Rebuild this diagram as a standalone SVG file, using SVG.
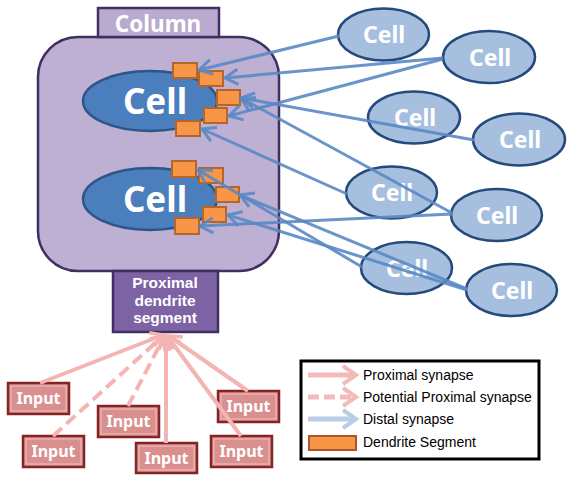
<svg xmlns="http://www.w3.org/2000/svg" width="571" height="478" viewBox="0 0 571 478">
<style>
.bold{font-family:"Noto Sans","DejaVu Sans",sans-serif;font-weight:bold;fill:#fff;text-anchor:middle}
.prox{font-family:"Liberation Sans","Noto Sans",sans-serif;font-weight:bold;fill:#fff;text-anchor:middle;font-size:15.5px}
.seg{fill:#f79646;stroke:#b5652a;stroke-width:2}
.small{fill:#a7bfdf;stroke:#244a7c;stroke-width:2.5}
.big{fill:#4a7ebc;stroke:#2d5587;stroke-width:2.5}
.inp{fill:#d98f8d;stroke:#842424;stroke-width:2.5}
.inpin{fill:none;stroke:#eec2c1;stroke-width:1}
.blue{stroke:#5a88c4;stroke-opacity:0.9;stroke-width:3;fill:none;marker-end:url(#bh)}
.pink{stroke:#f4b4b4;stroke-width:4;fill:none;marker-end:url(#ph)}
.dash{stroke-dasharray:12 6}
.leg{font-family:"Liberation Sans","Noto Sans",sans-serif;font-size:14px;fill:#000}
</style>
<defs>
<marker id="bh" markerUnits="userSpaceOnUse" viewBox="-3 -3 21 21" markerWidth="21" markerHeight="21" refX="14" refY="7.5" orient="auto">
<path d="M1,0 L14,7.5 L1,15" fill="none" stroke="#5a88c4" stroke-opacity="0.9" stroke-width="3"/>
</marker>
<marker id="ph" markerUnits="userSpaceOnUse" viewBox="-3 -3 20 20" markerWidth="20" markerHeight="20" refX="13" refY="7" orient="auto">
<path d="M1,0 L13,7 L1,14" fill="none" stroke="#f4b4b4" stroke-width="3.5"/>
</marker>
</defs>
<rect width="571" height="478" fill="#fff"/>

<g id="column">
<rect x="38" y="37" width="241" height="234" rx="40" fill="#bdb0d2" stroke="#403062" stroke-width="2.5"/>
<rect x="98" y="8" width="121" height="29" fill="#b9aacf" stroke="#403062" stroke-width="2.5"/>
<text class="bold" x="158" y="32" font-size="22.5">Column</text>
</g>
<g id="proximal-segment">
<rect x="113" y="271" width="105" height="61" fill="#7d62a4" stroke="#403062" stroke-width="2.5"/>
<text class="prox" x="165" y="288">Proximal</text>
<text class="prox" x="165" y="305.5">dendrite</text>
<text class="prox" x="165" y="323">segment</text>
</g>

<g id="cell-a">
<ellipse class="big" cx="150" cy="101" rx="67" ry="30"/>
<text class="bold" x="155" y="114" font-size="35">Cell</text>
</g>
<g id="cell-b">
<ellipse class="big" cx="150" cy="199" rx="67" ry="31"/>
<text class="bold" x="155" y="212" font-size="35">Cell</text>
</g>

<g id="segments-a">
<rect class="seg" x="173" y="63" width="24" height="15"/>
<rect class="seg" x="199" y="71" width="24" height="15"/>
<rect class="seg" x="217" y="90" width="23" height="15"/>
<rect class="seg" x="204" y="108" width="23" height="15"/>
<rect class="seg" x="176" y="121" width="24" height="15"/>
</g>
<g id="segments-b">
<rect class="seg" x="172" y="161" width="24" height="16"/>
<rect class="seg" x="199" y="168" width="24" height="15"/>
<rect class="seg" x="216" y="187" width="23" height="15"/>
<rect class="seg" x="203" y="207" width="23" height="15"/>
<rect class="seg" x="175" y="218" width="24" height="16"/>
</g>

<g id="cell-1"><ellipse class="small" cx="383.5" cy="34.5" rx="45.5" ry="26"/><text class="bold" x="384" y="43" font-size="23">Cell</text></g>
<g id="cell-2"><ellipse class="small" cx="489" cy="57" rx="46" ry="26"/><text class="bold" x="490" y="65.5" font-size="23">Cell</text></g>
<g id="cell-3"><ellipse class="small" cx="414" cy="117.5" rx="46" ry="26"/><text class="bold" x="415" y="126" font-size="23">Cell</text></g>
<g id="cell-4"><ellipse class="small" cx="519" cy="139.5" rx="46" ry="26"/><text class="bold" x="520" y="148" font-size="23">Cell</text></g>
<g id="cell-5"><ellipse class="small" cx="391.5" cy="192.5" rx="45.5" ry="26"/><text class="bold" x="392" y="201" font-size="23">Cell</text></g>
<g id="cell-6"><ellipse class="small" cx="496.5" cy="215" rx="45.5" ry="26"/><text class="bold" x="497" y="223.5" font-size="23">Cell</text></g>
<g id="cell-7"><ellipse class="small" cx="406.5" cy="268" rx="45.5" ry="26"/><text class="bold" x="407" y="276.5" font-size="23">Cell</text></g>
<g id="cell-8"><ellipse class="small" cx="511.5" cy="290" rx="45.5" ry="26"/><text class="bold" x="512" y="298.5" font-size="23">Cell</text></g>

<g id="input-1"><rect class="inp" x="8" y="383" width="61" height="31"/><rect class="inpin" x="11" y="386" width="55" height="25"/><text class="bold" x="38.5" y="404" font-size="16">Input</text></g>
<g id="input-2"><rect class="inp" x="23" y="436" width="61" height="31"/><rect class="inpin" x="26" y="439" width="55" height="25"/><text class="bold" x="53.5" y="457" font-size="16">Input</text></g>
<g id="input-3"><rect class="inp" x="98" y="406" width="61" height="31"/><rect class="inpin" x="101" y="409" width="55" height="25"/><text class="bold" x="128.5" y="427" font-size="16">Input</text></g>
<g id="input-4"><rect class="inp" x="136" y="443" width="61" height="30"/><rect class="inpin" x="139" y="446" width="55" height="24"/><text class="bold" x="166.5" y="464" font-size="16">Input</text></g>
<g id="input-5"><rect class="inp" x="218" y="391" width="61" height="31"/><rect class="inpin" x="221" y="394" width="55" height="25"/><text class="bold" x="248.5" y="412" font-size="16">Input</text></g>
<g id="input-6"><rect class="inp" x="211" y="436" width="61" height="31"/><rect class="inpin" x="214" y="439" width="55" height="25"/><text class="bold" x="241.5" y="457" font-size="16">Input</text></g>

<g id="connectors">
<line class="blue" x1="339" y1="36" x2="199" y2="70"/>
<line class="blue" x1="443" y1="58" x2="225" y2="78"/>
<line class="blue" x1="443" y1="59" x2="229" y2="116"/>
<line class="blue" x1="474" y1="140" x2="241" y2="98"/>
<line class="blue" x1="452" y1="213" x2="241" y2="98"/>
<line class="blue" x1="347" y1="194" x2="202" y2="129"/>
<line class="blue" x1="452" y1="214" x2="200" y2="226"/>
<line class="blue" x1="467" y1="289" x2="240" y2="195"/>
<line class="blue" x1="467" y1="290" x2="228" y2="215"/>
<line class="blue" x1="362" y1="267" x2="198" y2="170"/>
<line class="pink" x1="40" y1="383" x2="163" y2="335"/>
<line class="pink dash" x1="53" y1="436" x2="163" y2="336"/>
<line class="pink dash" x1="128" y1="406" x2="164" y2="337"/>
<line class="pink" x1="166" y1="443" x2="166" y2="337"/>
<line class="pink" x1="241" y1="436" x2="168" y2="337"/>
<line class="pink" x1="248" y1="391" x2="169" y2="336"/>
</g>

<g id="legend">
<rect x="301" y="361" width="238" height="98" fill="#fff" stroke="#000" stroke-width="3"/>
<line x1="308" y1="375" x2="354" y2="375" stroke="#f4b9b9" stroke-width="5"/>
<path d="M343,366 L356,375 L343,384" fill="none" stroke="#f4b9b9" stroke-width="4"/>
<text class="leg" x="363" y="380">Proximal synapse</text>
<line x1="308" y1="397" x2="354" y2="397" stroke="#f4b9b9" stroke-width="5" stroke-dasharray="11 5"/>
<path d="M343,388 L356,397 L343,406" fill="none" stroke="#f4b9b9" stroke-width="4"/>
<text class="leg" x="363" y="402">Potential Proximal synapse</text>
<line x1="308" y1="419" x2="354" y2="419" stroke="#b9cde5" stroke-width="5"/>
<path d="M343,410 L356,419 L343,428" fill="none" stroke="#b9cde5" stroke-width="4"/>
<text class="leg" x="363" y="424">Distal synapse</text>
<rect x="309" y="436" width="47" height="14" fill="#f79646" stroke="#a8562a" stroke-width="2"/>
<text class="leg" x="363" y="447">Dendrite Segment</text>
</g>
</svg>
